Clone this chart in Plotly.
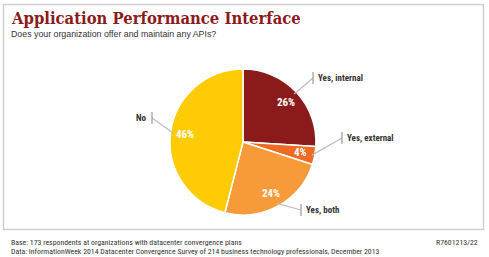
import math
import plotly.graph_objects as go

# ---- data ----
labels = ["Yes, internal", "Yes, external", "Yes, both", "No"]
values = [26, 4, 24, 46]

title = "Application Performance Interface"
subtitle = "Does your organization offer and maintain any APIs?"
footer1 = "Base: 173 respondents at organizations with datacenter convergence plans"
footer2 = "Data: InformationWeek 2014 Datacenter Convergence Survey of 214 business technology professionals, December 2013"
code = "R7601213/22"

# ---- style ----
colors = ["#8B1A1A", "#EE6A25", "#F79A3A", "#FFCB05"]
W, H = 489, 257
CX, CY, R = 243, 142, 73
# leader end point offsets from the pie centre (px) and label side
leader_end = [(70, -64), (99, -4), (58, 68), (-91, -24)]
sides = ["right", "right", "right", "left"]
NARROW = "Liberation Sans Narrow, Arial Narrow, Roboto Condensed, Roboto, sans-serif"


def px(x):
    return x / W


def py(y):
    return 1 - y / H


fig = go.Figure()
fig.add_trace(go.Pie(
    labels=labels, values=values, sort=False, direction="clockwise", rotation=0,
    marker=dict(colors=colors, line=dict(color="white", width=1.5)),
    textinfo="none", hoverinfo="label+percent", showlegend=False,
    domain=dict(x=[px(CX - R), px(CX + R)], y=[py(CY + R), py(CY - R)]),
))

shapes = []
annotations = []

# frame
shapes.append(dict(type="rect", xref="paper", yref="paper",
                   x0=px(3.5), x1=px(483.5), y0=py(229.5), y1=py(4.5),
                   line=dict(color="#cfcfcf", width=1.5), layer="below"))

total = sum(values)
cum = 0
for i, v in enumerate(values):
    a0 = cum / total * 360
    cum += v
    a1 = cum / total * 360
    mid = math.radians((a0 + a1) / 2)
    # percentage inside
    tx = CX + 0.8 * R * math.sin(mid)
    ty = CY - 0.8 * R * math.cos(mid)
    annotations.append(dict(x=px(tx), y=py(ty), xref="paper", yref="paper",
                            text="<b>%d%%</b>" % round(v / total * 100), showarrow=False,
                            font=dict(family=NARROW, size=11, color="white"),
                            xanchor="center", yanchor="middle"))
    # leader line
    sx = CX + 0.96 * R * math.sin(mid)
    sy = CY - 0.96 * R * math.cos(mid)
    ex = CX + leader_end[i][0]
    ey = CY + leader_end[i][1]
    shapes.append(dict(type="line", xref="paper", yref="paper",
                       x0=px(sx), y0=py(sy), x1=px(ex), y1=py(ey),
                       line=dict(color="#bdbdbd", width=1.2)))
    shapes.append(dict(type="line", xref="paper", yref="paper",
                       x0=px(ex), y0=py(ey - 6), x1=px(ex), y1=py(ey + 6),
                       line=dict(color="#9a9a9a", width=1.2)))
    right = sides[i] == "right"
    annotations.append(dict(x=px(ex + (3 if right else -3)), y=py(ey), xref="paper", yref="paper",
                            text="<b>%s</b>" % labels[i], showarrow=False,
                            font=dict(family=NARROW, size=9, color="#333333"),
                            xanchor="left" if right else "right", yanchor="middle"))

# titles and footer
annotations.append(dict(x=px(9), y=py(19), xref="paper", yref="paper", text="<b>%s</b>" % title,
                        showarrow=False, xanchor="left", yanchor="middle",
                        font=dict(family="DejaVu Serif Condensed, DejaVu Serif", size=16.5,
                                  color="#8B1A1A")))
annotations.append(dict(x=px(9), y=py(34), xref="paper", yref="paper", text=subtitle,
                        showarrow=False, xanchor="left", yanchor="middle",
                        font=dict(family="Liberation Sans, sans-serif", size=8.8, color="#333333")))
annotations.append(dict(x=px(9), y=py(242), xref="paper", yref="paper", text=footer1,
                        showarrow=False, xanchor="left", yanchor="middle",
                        font=dict(family=NARROW, size=7.8, color="#333333")))
annotations.append(dict(x=px(9), y=py(251.5), xref="paper", yref="paper", text=footer2,
                        showarrow=False, xanchor="left", yanchor="middle",
                        font=dict(family=NARROW, size=7.8, color="#333333")))
annotations.append(dict(x=px(480), y=py(242), xref="paper", yref="paper", text=code,
                        showarrow=False, xanchor="right", yanchor="middle",
                        font=dict(family=NARROW, size=7.8, color="#333333")))

fig.update_layout(width=W, height=H, margin=dict(l=0, r=0, t=0, b=0),
                  paper_bgcolor="white", plot_bgcolor="white",
                  shapes=shapes, annotations=annotations)
fig.write_html("out.html")
